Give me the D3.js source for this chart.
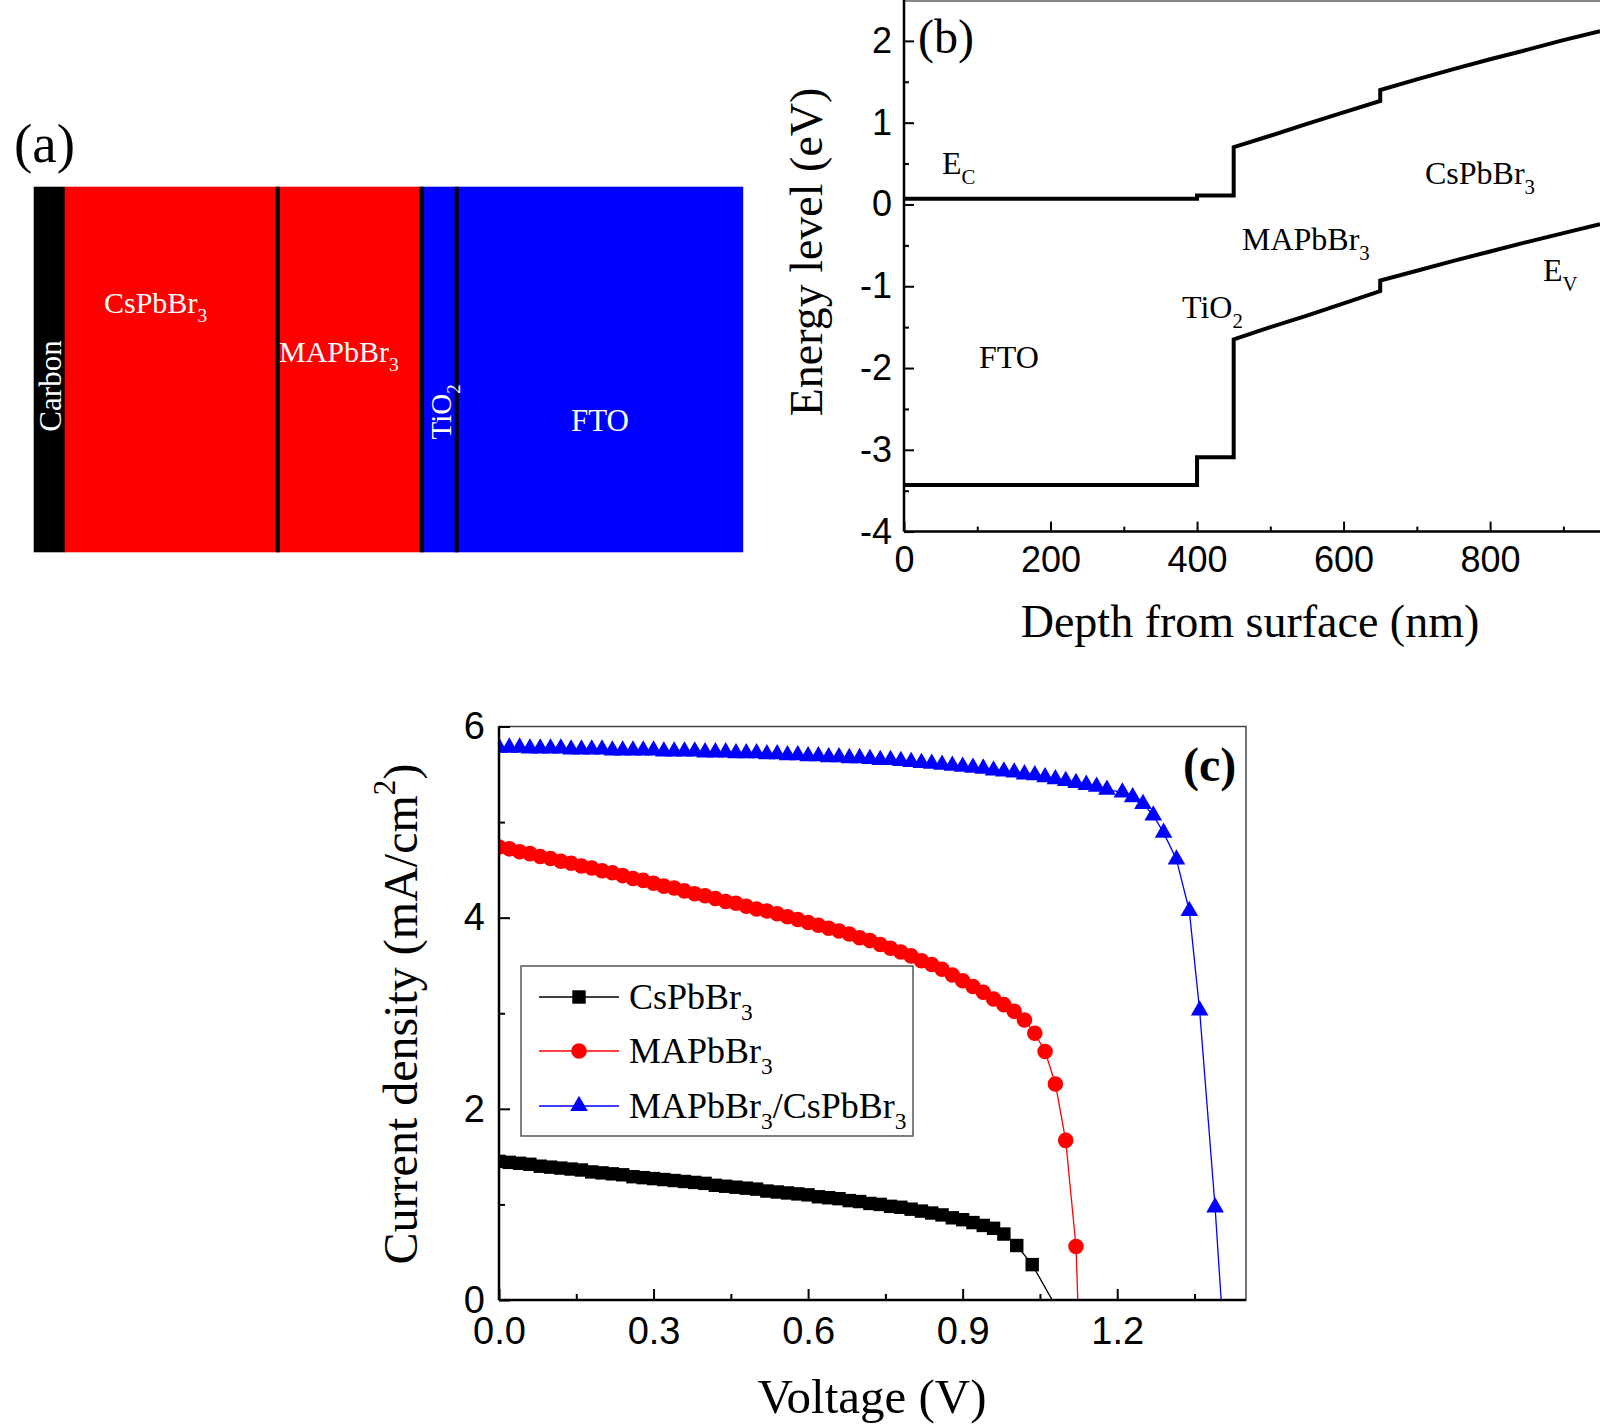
<!DOCTYPE html>
<html>
<head>
<meta charset="utf-8">
<script src="https://cdn.jsdelivr.net/npm/d3@7"></script>
<style>
  html, body { margin: 0; padding: 0; background: #fff; }
  svg { display: block; }
</style>
</head>
<body>
<div id="viscontainer"></div>
<script>
// (a) layer stack, schematic widths
const layerNames = ["Carbon", "CsPbBr3", "MAPbBr3", "TiO2", "FTO"];
const layerEdges = [0, 31, 244, 388, 423, 709];
const layerColors = ["#000000", "#ff0000", "#ff0000", "#0000ff", "#0000ff"];
const layerSeparators = [244, 388, 423];

// (b) band diagram
const depth = [0, 400, 400, 450, 450, 500, 550, 600, 650, 650, 700, 750, 800, 850, 900, 950];
const ecLevel = [0.07, 0.07, 0.11, 0.11, 0.70, 0.84, 0.985, 1.125, 1.265, 1.40, 1.53, 1.655, 1.775, 1.89, 2.01, 2.12];
const evLevel = [-3.43, -3.43, -3.09, -3.09, -1.65, -1.50, -1.36, -1.21, -1.06, -0.93, -0.81, -0.69, -0.575, -0.46, -0.35, -0.24];
const depthTicks = [0, 200, 400, 600, 800];
const depthMinor = [100, 300, 500, 700, 900];
const energyTicks = [-4, -3, -2, -1, 0, 1, 2];
const energyMinor = [-3.5, -2.5, -1.5, -0.5, 0.5, 1.5];

// (c) J-V curves
const csVoltage = [0, 0.02, 0.04, 0.06, 0.08, 0.10, 0.12, 0.14, 0.16, 0.18,
  0.20, 0.22, 0.24, 0.26, 0.28, 0.30, 0.32, 0.34, 0.36, 0.38,
  0.40, 0.42, 0.44, 0.46, 0.48, 0.50, 0.52, 0.54, 0.56, 0.58,
  0.60, 0.62, 0.64, 0.66, 0.68, 0.70, 0.72, 0.74, 0.76, 0.78,
  0.80, 0.82, 0.84, 0.86, 0.88, 0.90, 0.92, 0.94, 0.96, 0.98,
  1.005, 1.035, 1.10];
const csCurrent = [1.45, 1.44, 1.43, 1.42, 1.40, 1.39, 1.38, 1.37, 1.36, 1.34,
  1.33, 1.32, 1.31, 1.29, 1.28, 1.27, 1.26, 1.25, 1.24, 1.23,
  1.22, 1.20, 1.19, 1.18, 1.17, 1.16, 1.14, 1.13, 1.12, 1.11,
  1.10, 1.08, 1.07, 1.06, 1.04, 1.03, 1.01, 1.00, 0.98, 0.97,
  0.95, 0.93, 0.91, 0.89, 0.86, 0.84, 0.81, 0.78, 0.75, 0.69,
  0.57, 0.37, -0.25];

const maVoltage = [0, 0.02, 0.04, 0.06, 0.08, 0.10, 0.12, 0.14, 0.16, 0.18,
  0.20, 0.22, 0.24, 0.26, 0.28, 0.30, 0.32, 0.34, 0.36, 0.38,
  0.40, 0.42, 0.44, 0.46, 0.48, 0.50, 0.52, 0.54, 0.56, 0.58,
  0.60, 0.62, 0.64, 0.66, 0.68, 0.70, 0.72, 0.74, 0.76, 0.78,
  0.80, 0.82, 0.84, 0.86, 0.88, 0.90, 0.92, 0.94, 0.96, 0.98,
  1.00, 1.02, 1.04, 1.06, 1.08, 1.10, 1.12, 1.14];
const maCurrent = [4.74, 4.72, 4.69, 4.67, 4.64, 4.62, 4.59, 4.57, 4.54, 4.52,
  4.49, 4.47, 4.44, 4.41, 4.39, 4.36, 4.33, 4.31, 4.28, 4.25,
  4.23, 4.20, 4.17, 4.15, 4.12, 4.09, 4.07, 4.04, 4.01, 3.98,
  3.95, 3.92, 3.89, 3.86, 3.83, 3.79, 3.76, 3.72, 3.68, 3.64,
  3.60, 3.55, 3.51, 3.46, 3.40, 3.34, 3.28, 3.22, 3.15, 3.09,
  3.02, 2.93, 2.79, 2.60, 2.26, 1.67, 0.56, -2.6];

const stackVoltage = [0, 0.02, 0.04, 0.06, 0.08, 0.10, 0.12, 0.14, 0.16, 0.18,
  0.20, 0.22, 0.24, 0.26, 0.28, 0.30, 0.32, 0.34, 0.36, 0.38,
  0.40, 0.42, 0.44, 0.46, 0.48, 0.50, 0.52, 0.54, 0.56, 0.58,
  0.60, 0.62, 0.64, 0.66, 0.68, 0.70, 0.72, 0.74, 0.76, 0.78,
  0.80, 0.82, 0.84, 0.86, 0.88, 0.90, 0.92, 0.94, 0.96, 0.98,
  1.00, 1.02, 1.04, 1.06, 1.08, 1.10, 1.12, 1.14, 1.16, 1.18,
  1.21, 1.23, 1.25, 1.27, 1.29, 1.315, 1.34, 1.36, 1.39, 1.42];
const stackCurrent = [5.78, 5.78, 5.78, 5.77, 5.77, 5.77, 5.77, 5.76, 5.76, 5.76,
  5.76, 5.75, 5.75, 5.75, 5.75, 5.75, 5.74, 5.74, 5.74, 5.74,
  5.73, 5.73, 5.73, 5.72, 5.72, 5.72, 5.71, 5.71, 5.70, 5.70,
  5.69, 5.69, 5.68, 5.68, 5.67, 5.67, 5.66, 5.65, 5.65, 5.64,
  5.63, 5.62, 5.61, 5.60, 5.59, 5.58, 5.57, 5.56, 5.54, 5.53,
  5.52, 5.50, 5.49, 5.47, 5.45, 5.43, 5.41, 5.39, 5.37, 5.34,
  5.31, 5.26, 5.19, 5.07, 4.89, 4.61, 4.07, 3.03, 0.97, -1.5];

const voltageTicks = [0, 0.3, 0.6, 0.9, 1.2];
const voltageMinor = [0.15, 0.45, 0.75, 1.05, 1.35];
const currentTicks = [0, 2, 4, 6];
const currentMinor = [1, 3, 5];

const SERIF = "'Liberation Serif', 'Times New Roman', serif";
const SANS = "'Liberation Sans', Arial, sans-serif";

// text with sub/superscripts: parts = [[text, "n"|"sub"|"sup"], ...]
function richText(sel, parts, fs) {
  let shift = 0;
  parts.forEach(([str, kind]) => {
    const target = kind === "sub" ? 0.3 * fs : kind === "sup" ? -0.45 * fs : 0;
    sel.append("tspan")
      .attr("dy", target - shift)
      .attr("font-size", kind === "n" ? fs : fs * 0.65)
      .text(str);
    shift = target;
  });
  return sel;
}

function styleAxis(g, fontSize) {
  g.select(".domain").remove();
  g.selectAll(".tick line").attr("stroke", "#000").attr("stroke-width", 2);
  g.selectAll(".tick text")
    .attr("fill", "#000")
    .attr("font-family", SANS)
    .attr("font-size", fontSize);
}

function makeVis() {
  const width = 1600;
  const height = 1425;
  const svg = d3.create("svg").attr("width", width).attr("height", height);
  document.getElementById("viscontainer").append(svg.node());

  // ---------- (a) ----------
  const xa = d3.scaleLinear().domain([0, 709]).range([33.7, 742.7]);
  const aTop = 186.7, aBottom = 552.3;

  svg.append("g")
    .selectAll("rect")
    .data(layerNames)
    .join("rect")
    .attr("x", (d, i) => xa(layerEdges[i]))
    .attr("y", aTop)
    .attr("width", (d, i) => xa(layerEdges[i + 1]) - xa(layerEdges[i]) + 0.5)
    .attr("height", aBottom - aTop)
    .attr("fill", (d, i) => layerColors[i]);

  svg.append("g")
    .selectAll("line")
    .data(layerSeparators)
    .join("line")
    .attr("x1", (d) => xa(d))
    .attr("x2", (d) => xa(d))
    .attr("y1", aTop)
    .attr("y2", aBottom)
    .attr("stroke", "#000")
    .attr("stroke-width", 4);

  svg.append("text").attr("x", 14).attr("y", 162)
    .attr("font-family", SERIF).attr("font-size", 55).text("(a)");

  const aLab = svg.append("g").attr("fill", "#fff").attr("font-family", SERIF);
  richText(aLab.append("text").attr("x", 104).attr("y", 313), [["CsPbBr", "n"], ["3", "sub"]], 30);
  richText(aLab.append("text").attr("x", 279).attr("y", 362), [["MAPbBr", "n"], ["3", "sub"]], 30);
  aLab.append("text").attr("x", 600).attr("y", 431).attr("text-anchor", "middle")
    .attr("font-size", 31).text("FTO");
  aLab.append("text").attr("transform", "translate(61,386) rotate(-90)")
    .attr("text-anchor", "middle").attr("font-size", 31).text("Carbon");
  richText(aLab.append("text").attr("transform", "translate(451,412) rotate(-90)")
    .attr("text-anchor", "middle"), [["TiO", "n"], ["2", "sub"]], 29);

  // ---------- (b) ----------
  const xB = d3.scaleLinear().domain([0, 950]).range([904, 1600]);
  const yB = d3.scaleLinear().domain([-4, 2.5]).range([531.6, 0]);

  const gbxMinor = svg.append("g").attr("transform", `translate(0,${yB(-4)})`)
    .call(d3.axisBottom(xB).tickValues(depthMinor).tickSize(-5).tickFormat(""));
  styleAxis(gbxMinor, 36);
  const gbx = svg.append("g").attr("transform", `translate(0,${yB(-4)})`)
    .call(d3.axisBottom(xB).tickValues(depthTicks).tickSize(-10).tickPadding(15).tickFormat((d) => String(d)));
  styleAxis(gbx, 36);

  const gbyMinor = svg.append("g").attr("transform", `translate(${xB(0)},0)`)
    .call(d3.axisLeft(yB).tickValues(energyMinor).tickSize(-5).tickFormat(""));
  styleAxis(gbyMinor, 36);
  const gby = svg.append("g").attr("transform", `translate(${xB(0)},0)`)
    .call(d3.axisLeft(yB).tickValues(energyTicks).tickSize(-10).tickPadding(12).tickFormat((d) => String(d)));
  styleAxis(gby, 36);

  svg.append("line").attr("x1", xB(0)).attr("x2", xB(950)).attr("y1", 1).attr("y2", 1)
    .attr("stroke", "#888").attr("stroke-width", 2);
  svg.append("line").attr("x1", xB(0)).attr("x2", xB(950)).attr("y1", yB(-4)).attr("y2", yB(-4))
    .attr("stroke", "#000").attr("stroke-width", 2.5);
  svg.append("line").attr("x1", xB(0)).attr("x2", xB(0)).attr("y1", 0).attr("y2", yB(-4))
    .attr("stroke", "#000").attr("stroke-width", 2.5);

  const band = d3.line().x((d) => xB(d[0])).y((d) => yB(d[1]));
  [ecLevel, evLevel].forEach((lev) => {
    svg.append("path")
      .datum(depth.map((d, i) => [d, lev[i]]))
      .attr("d", band)
      .attr("fill", "none")
      .attr("stroke", "#000")
      .attr("stroke-width", 4)
      .attr("stroke-linejoin", "miter");
  });

  svg.append("text").attr("x", 918).attr("y", 53)
    .attr("font-family", SERIF).attr("font-size", 48).text("(b)");
  const bLab = svg.append("g").attr("font-family", SERIF).attr("fill", "#000");
  richText(bLab.append("text").attr("x", 942).attr("y", 174), [["E", "n"], ["C", "sub"]], 32);
  richText(bLab.append("text").attr("x", 1425).attr("y", 184), [["CsPbBr", "n"], ["3", "sub"]], 32);
  richText(bLab.append("text").attr("x", 1242).attr("y", 250), [["MAPbBr", "n"], ["3", "sub"]], 32);
  richText(bLab.append("text").attr("x", 1182).attr("y", 318), [["TiO", "n"], ["2", "sub"]], 32);
  richText(bLab.append("text").attr("x", 1543).attr("y", 281), [["E", "n"], ["V", "sub"]], 32);
  bLab.append("text").attr("x", 979).attr("y", 368).attr("font-size", 32).text("FTO");

  svg.append("text").attr("transform", "translate(822,252) rotate(-90)")
    .attr("text-anchor", "middle").attr("font-family", SERIF).attr("font-size", 46)
    .text("Energy level (eV)");
  svg.append("text").attr("x", 1250).attr("y", 637)
    .attr("text-anchor", "middle").attr("font-family", SERIF).attr("font-size", 46)
    .text("Depth from surface (nm)");

  // ---------- (c) ----------
  const xC = d3.scaleLinear().domain([0, 1.45]).range([499, 1246]);
  const yC = d3.scaleLinear().domain([0, 6]).range([1300, 726.5]);

  svg.append("defs").append("clipPath").attr("id", "clipC")
    .append("rect")
    .attr("x", xC(0)).attr("y", yC(6))
    .attr("width", xC(1.45) - xC(0)).attr("height", yC(0) - yC(6));

  // frame
  svg.append("rect")
    .attr("x", xC(0)).attr("y", yC(6))
    .attr("width", xC(1.45) - xC(0)).attr("height", yC(0) - yC(6))
    .attr("fill", "none").attr("stroke", "#444").attr("stroke-width", 1.5);

  const series = [
    { name: [["CsPbBr", "n"], ["3", "sub"]], v: csVoltage, j: csCurrent, color: "#000000", symbol: d3.symbolSquare, size: 180 },
    { name: [["MAPbBr", "n"], ["3", "sub"]], v: maVoltage, j: maCurrent, color: "#ff0000", symbol: d3.symbolCircle, size: 190 },
    { name: [["MAPbBr", "n"], ["3", "sub"], ["/CsPbBr", "n"], ["3", "sub"]], v: stackVoltage, j: stackCurrent, color: "#0000ff", symbol: d3.symbolTriangle, size: 135 },
  ];

  const plot = svg.append("g").attr("clip-path", "url(#clipC)");
  const jv = d3.line().x((d) => xC(d[0])).y((d) => yC(d[1]));
  series.forEach((s) => {
    const pts = s.v.map((v, i) => [v, s.j[i]]);
    const g = plot.append("g");
    g.append("path").datum(pts).attr("d", jv)
      .attr("fill", "none").attr("stroke", s.color).attr("stroke-width", 1.3);
    g.selectAll("path.mk").data(pts).join("path")
      .attr("class", "mk")
      .attr("transform", (d) => `translate(${xC(d[0])},${yC(d[1])})`)
      .attr("d", d3.symbol(s.symbol, s.size))
      .attr("fill", s.color);
  });

  const gcxMinor = svg.append("g").attr("transform", `translate(0,${yC(0)})`)
    .call(d3.axisBottom(xC).tickValues(voltageMinor).tickSize(-6).tickFormat(""));
  styleAxis(gcxMinor, 38);
  const gcx = svg.append("g").attr("transform", `translate(0,${yC(0)})`)
    .call(d3.axisBottom(xC).tickValues(voltageTicks).tickSize(-11).tickPadding(17).tickFormat(d3.format(".1f")));
  styleAxis(gcx, 38);
  const gcyMinor = svg.append("g").attr("transform", `translate(${xC(0)},0)`)
    .call(d3.axisLeft(yC).tickValues(currentMinor).tickSize(-6).tickFormat(""));
  styleAxis(gcyMinor, 38);
  const gcy = svg.append("g").attr("transform", `translate(${xC(0)},0)`)
    .call(d3.axisLeft(yC).tickValues(currentTicks).tickSize(-11).tickPadding(14).tickFormat((d) => String(d)));
  styleAxis(gcy, 38);

  svg.append("line").attr("x1", xC(0)).attr("x2", xC(1.45)).attr("y1", yC(0)).attr("y2", yC(0))
    .attr("stroke", "#000").attr("stroke-width", 2.5);
  svg.append("line").attr("x1", xC(0)).attr("x2", xC(0)).attr("y1", yC(6)).attr("y2", yC(0))
    .attr("stroke", "#000").attr("stroke-width", 2.5);

  svg.append("text").attr("x", 1183).attr("y", 781)
    .attr("font-family", SERIF).attr("font-weight", "bold").attr("font-size", 48).text("(c)");

  // legend
  const leg = svg.append("g");
  leg.append("rect").attr("x", 521).attr("y", 966).attr("width", 392).attr("height", 170)
    .attr("fill", "#fff").attr("stroke", "#555").attr("stroke-width", 1.5);
  const rowY = [997, 1051, 1106];
  series.forEach((s, i) => {
    const y = rowY[i];
    leg.append("line").attr("x1", 539).attr("x2", 619).attr("y1", y).attr("y2", y)
      .attr("stroke", s.color).attr("stroke-width", 1.3);
    leg.append("path").attr("transform", `translate(579,${y})`)
      .attr("d", d3.symbol(s.symbol, s.size)).attr("fill", s.color);
    richText(leg.append("text").attr("x", 629).attr("y", y + 12)
      .attr("font-family", SERIF).attr("fill", "#000"), s.name, 36);
  });

  richText(svg.append("text").attr("transform", "translate(417,1014) rotate(-90)")
    .attr("text-anchor", "middle").attr("font-family", SERIF),
    [["Current density (mA/cm", "n"], ["2", "sup"], [")", "n"]], 48);
  svg.append("text").attr("x", 872).attr("y", 1413)
    .attr("text-anchor", "middle").attr("font-family", SERIF).attr("font-size", 49)
    .text("Voltage (V)");
}

makeVis();
</script>
</body>
</html>
